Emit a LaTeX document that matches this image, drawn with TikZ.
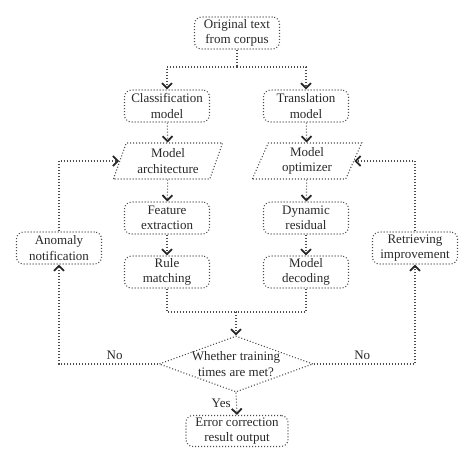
\documentclass[tikz,border=0pt]{standalone}
\usepackage{fontspec}
\setmainfont{Liberation Serif}
\usepackage{tikz}
\usetikzlibrary{shapes.geometric, arrows.meta, positioning, calc}
\definecolor{linegray}{RGB}{75,75,75}
\definecolor{textgray}{RGB}{40,40,40}

\begin{document}
\begin{tikzpicture}[x=1pt, y=1pt,
  font=\fontsize{13}{15.5}\selectfont, text=textgray,
  dots/.style={draw=linegray, line width=1.1pt, dash pattern=on 1pt off 2pt},
  box/.style={dots, rounded corners=7pt, minimum width=85, minimum height=32, align=center, inner sep=1pt},
  slanted/.style={dots, trapezium, trapezium left angle=70, trapezium right angle=110, trapezium stretches=true, minimum width=110, minimum height=36, align=center, inner sep=1pt},
  decision/.style={dots, diamond, minimum width=154, minimum height=56, inner sep=0pt},
  flow/.style={dots, -{Straight Barb[length=5pt,width=10pt,line width=1.8pt,color=black!85]}}]

  \useasboundingbox (0,0) rectangle (474,-465);

  % Main column boxes
  \node[box] (orig) at (237,-33) {Original text\\from corpus};
  \node[box] (class) at (167,-106) {Classification\\model};
  \node[box] (trans) at (306,-106) {Translation\\model};
  \node[slanted] (arch) at (168,-161) {Model\\architecture};
  \node[slanted] (opt) at (307,-161) {Model\\optimizer};
  \node[box] (feat) at (167,-218) {Feature\\extraction};
  \node[box] (dyn) at (306,-218) {Dynamic\\residual};
  \node[box] (rule) at (167,-272) {Rule\\matching};
  \node[box] (dec) at (306,-272) {Model\\decoding};

  % Side boxes
  \node[box] (anom) at (59,-248) {Anomaly\\notification};
  \node[box] (retr) at (415,-248) {Retrieving\\improvement};

  % Decision and output
  \node[decision] (check) at (236,-364) {};
  \node[align=center] (checktxt) at (check) {Whether training\\times are met?};
  \node[box, minimum width=102, minimum height=31] (err) at (237,-431) {Error correction\\result output};

  \coordinate (split) at (237,-67);
  \coordinate (merge) at (236,-312);

  % Arrows
  \draw[dots] (orig.south) -- (split);
  \draw[flow] (split) -| (class.north);
  \draw[flow] (split) -| (trans.north);
  \draw[flow] (class) -- (arch);
  \draw[flow] (arch) -- (feat);
  \draw[flow] (feat) -- (rule);
  \draw[flow] (trans) -- (opt);
  \draw[flow] (opt) -- (dyn);
  \draw[flow] (dyn) -- (dec);
  \draw[dots] (rule.south) |- (merge);
  \draw[dots] (dec.south) |- (merge);
  \draw[flow] (merge) -- (check.north);

  % Feedback loops
  \draw[flow] (check.west) -| node[above, pos=0.22] {No} (anom.south);
  \draw[flow] (check.east) -| node[above, pos=0.24] {No} (retr.south);
  \draw[flow] (anom.north) |- (arch.west);
  \draw[flow] (retr.north) |- (opt.east);
  \draw[flow] (check.south) -- node[left, xshift=-2pt] {Yes} (err.north);

\end{tikzpicture}
\end{document}
